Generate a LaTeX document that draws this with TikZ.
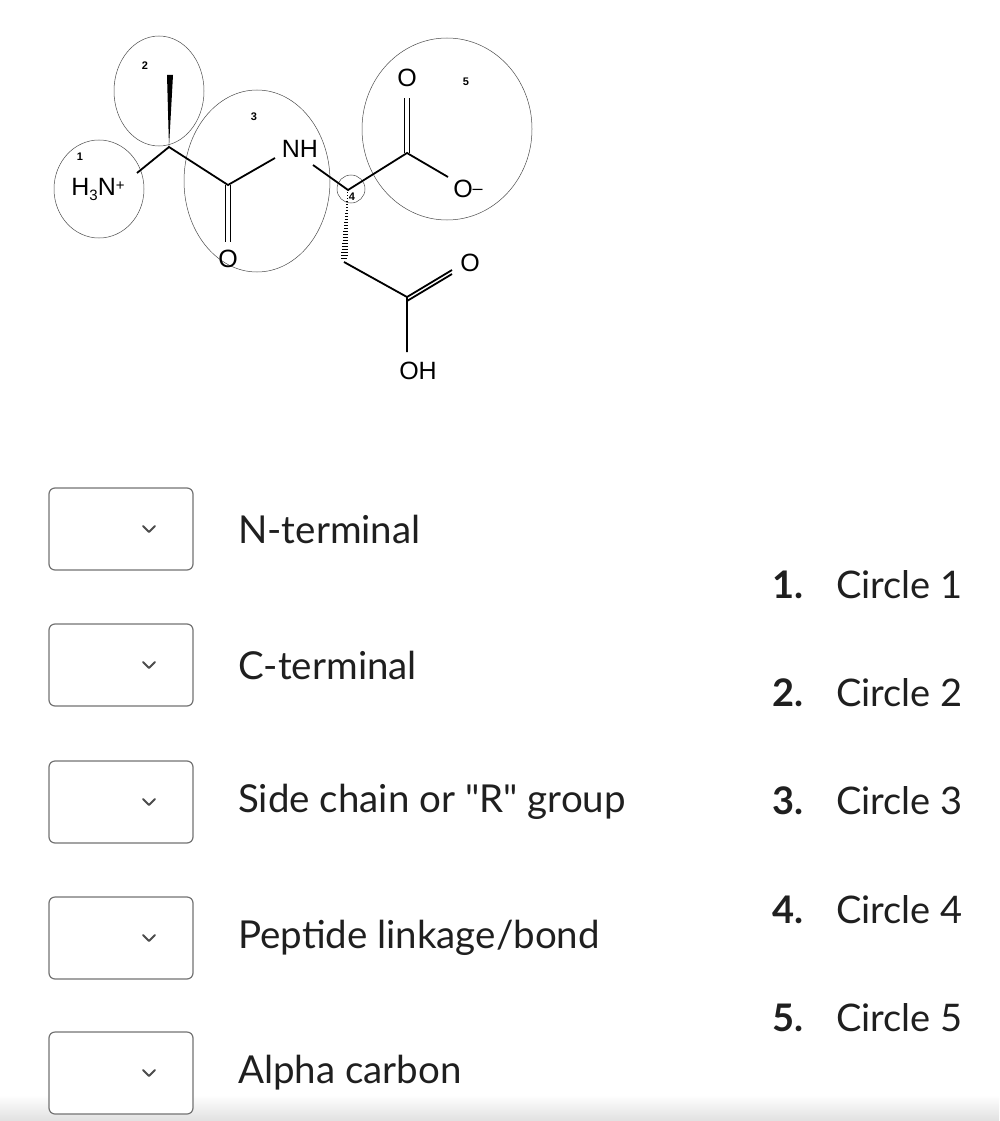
\documentclass[tikz,border=0pt]{standalone}
\usepackage{fontspec}
\setmainfont{Lato}[Ligatures=TeXOff]
\newfontfamily\arial{Liberation Sans}
\begin{document}
\begin{tikzpicture}[x=1pt,y=-1pt,
  bond/.style={line width=1.8pt},
  ring/.style={draw=black!70,line width=0.5pt},
  atom/.style={font=\arial\fontsize{25}{25}\selectfont,inner sep=0pt},
  num/.style={font=\arial\bfseries\fontsize{11}{11}\selectfont,inner sep=0pt},
  selbox/.style={draw=black!55,line width=1.2pt,rounded corners=6pt,fill=white},
  chev/.style={draw=black!70,line width=2pt,line cap=round,line join=round},
  lab/.style={font=\fontsize{38.5}{39}\selectfont,text=black!88,anchor=west,inner sep=0pt},
  lst/.style={font=\fontsize{38}{39}\selectfont,text=black!88,anchor=west,inner sep=0pt}]
\useasboundingbox (0,0) rectangle (999,1121);
\shade[top color=white,bottom color=black!12] (0,1095) rectangle (999,1121);
% circles
\draw[ring] (99,189) ellipse [x radius=45,y radius=49];
\draw[ring] (159,91) ellipse [x radius=45,y radius=55];
\draw[ring] (257,181) ellipse [x radius=73,y radius=91];
\draw[ring] (351,189) circle (14);
\draw[ring] (447,129) ellipse [x radius=85,y radius=91];
% labels
\node[num] (n1) at (80,157) {1};
\node[num] (n2) at (145,66) {2};
\node[num] (n3) at (254,117) {3};
\node[num] (n4) at (352,197) {4};
\node[num] (n5) at (466,82) {5};
% atoms
\node[atom] (N) at (98,189) {H\raisebox{-5pt}{\fontsize{15}{15}\selectfont 3}N\raisebox{5pt}{\fontsize{15}{15}\selectfont +}};
\coordinate (Ca) at (169,147);
\coordinate (Nb) at (137,173);
\coordinate (C1) at (228,185);
\coordinate (O1b) at (228,242);
\node[atom] (O1) at (228,259) {O};
\node[atom] (NH) at (300,149) {NH};
\coordinate (NHa) at (275,158);
\coordinate (NHb) at (313,165);
\coordinate (C4) at (348,190);
\coordinate (C5) at (407,153);
\coordinate (O5b) at (407,98);
\node[atom] (O5) at (407,78) {O};
\coordinate (Omb) at (448,177);
\node[atom] (Om) at (468,189) {O\raisebox{3pt}{\fontsize{18}{18}\selectfont –}};
\coordinate (CH2) at (344,262);
\coordinate (C6) at (407,297);
\coordinate (O6b) at (452,270);
\node[atom] (O6) at (470,263) {O};
\coordinate (OHb) at (407,352);
\node[atom] (OH) at (418,371) {OH};
% bonds
\fill (Ca) -- (167,75) -- (173,75) -- cycle;
\draw[bond] (Nb) -- (Ca) -- (C1) -- (NHa);
\draw[bond] ([xshift=-2.5]C1) -- ([xshift=-2.5]O1b);
\draw[bond] ([xshift=2.5]C1) -- ([xshift=2.5]O1b);
\draw[bond] (NHb) -- (C4) -- (C5) -- (Omb);
\draw[bond] ([xshift=-2.5]C5) -- ([xshift=-2.5]O5b);
\draw[bond] ([xshift=2.5]C5) -- ([xshift=2.5]O5b);
\foreach \i in {0,...,22} {
  \pgfmathsetmacro\yy{192+\i*3}
  \pgfmathsetmacro\ww{0.5+\i*0.13}
  \draw[line width=1pt] ({348-0.057*(\yy-190)-\ww},\yy) -- ({348-0.057*(\yy-190)+\ww},\yy);
}
\draw[bond] (CH2) -- (C6) -- (OHb);
\draw[bond] (C6) -- (O6b);
\draw[bond] ([yshift=-4]C6) -- ([yshift=-4]O6b);
% form
\foreach \y/\t [count=\k] in {529/{N-terminal},665/{C-terminal},802/{Side chain or "R" group},938/{Peptide linkage/bond},1073/{Alpha carbon}} {
  \node[selbox,minimum width=144,minimum height=82] (b\k) at (121,\y) {};
  \draw[chev] ([xshift=22,yshift=3]b\k.center) -- ([xshift=28,yshift=-3]b\k.center) -- ([xshift=34,yshift=3]b\k.center);
  \node[lab] (t\k) at (238,\y) {\t};
}
\foreach \y [count=\k] in {585,693,801,910,1018} {
  \node[lst,font=\bfseries\fontsize{38}{39}\selectfont] (m\k) at (772,\y) {\k.};
  \node[lst] (c\k) at (836,\y) {Circle \k};
}
\end{tikzpicture}
\end{document}
